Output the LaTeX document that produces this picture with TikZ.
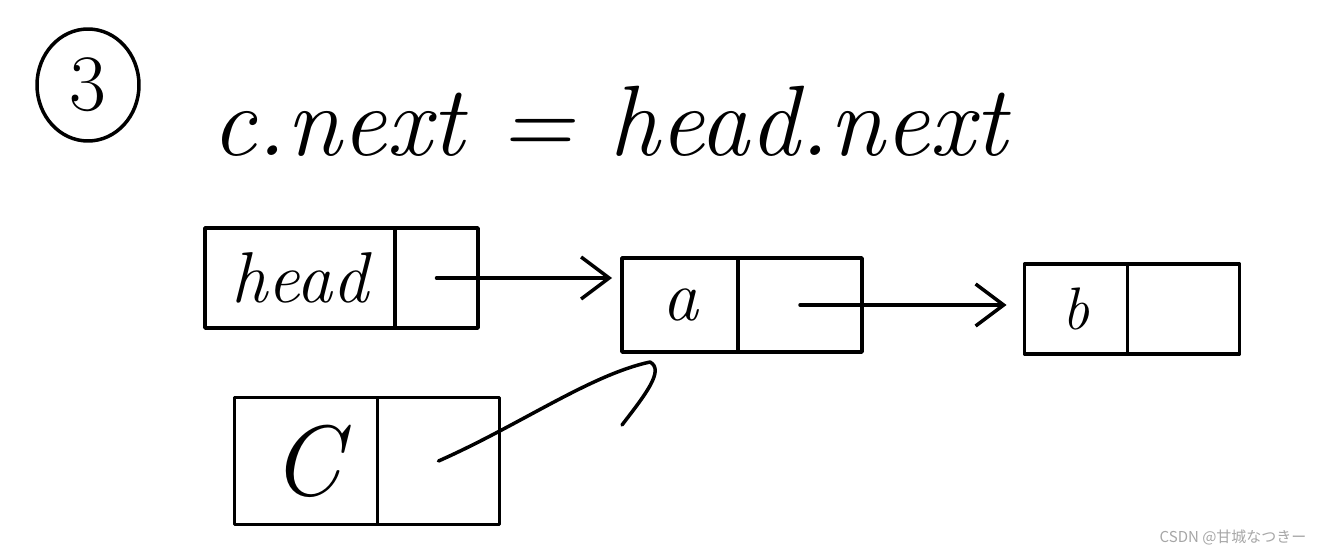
\documentclass[tikz,border=0pt]{standalone}
\usepackage{fontspec}
\newfontfamily\cjk{Noto Sans CJK JP}
\usetikzlibrary{positioning}
\usetikzlibrary{shapes.geometric}
\usetikzlibrary{arrows.meta}
\tikzset{box node/.style={rectangle,draw,line width=3.5pt,inner sep=0pt,outer sep=0pt},
  link/.style={line width=3.5pt,-{Straight Barb[length=28pt,width=42pt]}},}

\begin{document}
\begin{tikzpicture}[x=1pt,y=-1pt,line cap=round,line join=round]
    \useasboundingbox (0,0) rectangle (1318,554);
    \node[draw,ellipse,line width=3.5pt,minimum width=102pt,minimum height=112pt,inner sep=0pt,font=\fontsize{80}{80}\selectfont] (num) at (88,85) {3};
    \node[anchor=base west,font=\fontsize{100}{100}\selectfont\itshape] (title) at (208,155) {c.next = head.next};

    \node[box node,minimum width=190pt,minimum height=100pt,font=\fontsize{72}{72}\selectfont\itshape] (head) at (300,278) {head};
    \node[box node,minimum width=83pt,minimum height=100pt] (headnext) [right = 0pt of head] {};
    \node[box node,minimum width=116pt,minimum height=94pt,font=\fontsize{72}{72}\selectfont\itshape] (a) at (680,305) {a};
    \node[box node,minimum width=124pt,minimum height=94pt] (anext) [right = 0pt of a] {};
    \node[box node,minimum width=103pt,minimum height=90pt,font=\fontsize{60}{60}\selectfont\itshape] (b) at (1076,309) {b};
    \node[box node,minimum width=112pt,minimum height=90pt] (bnext) [right = 0pt of b] {};
    \node[box node,minimum width=143pt,minimum height=127pt,font=\fontsize{100}{100}\selectfont\itshape] (c) at (306,461) {C};
    \node[box node,minimum width=122pt,minimum height=127pt] (cnext) [right = 0pt of c] {};
    \coordinate (hook) at (622,425);

    \draw[link,shorten >=10pt] (headnext.center) -- (a.west |- headnext.center);
    \draw[link,shorten >=18pt] (anext.center) -- (b.west |- anext.center);
    \draw[line width=3.5pt] (cnext.center) .. controls (520,425) and (590,375) .. ([xshift=-30pt,yshift=-10pt]a.south)
      .. controls (665,370) and (645,395) .. (hook);

    \node[anchor=east,text=gray!70,font=\cjk\fontsize{15}{15}\selectfont] (mark) at (1310,537) {CSDN @甘城なつきー};
\end{tikzpicture}
\end{document}
